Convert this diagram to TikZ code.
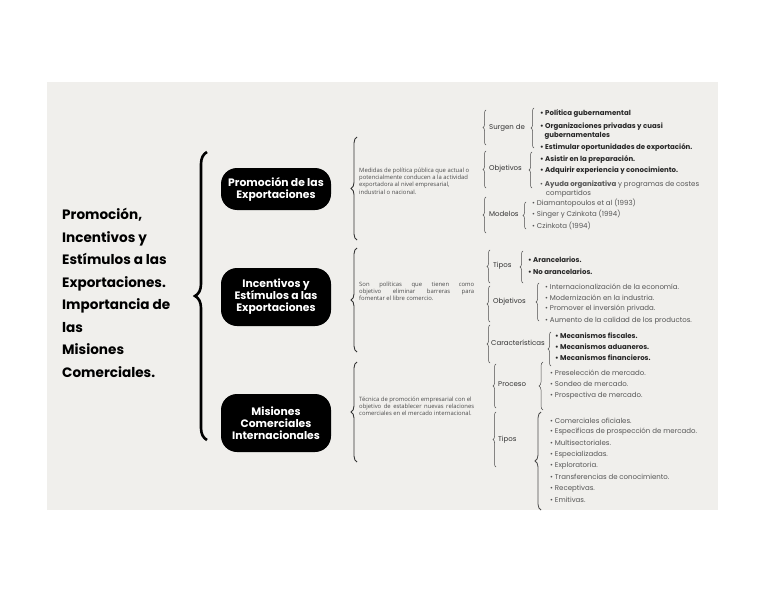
\documentclass[tikz,border=0pt]{standalone}
\usepackage{fontspec}
\setmainfont{Poppins}
\newfontfamily\descfont{Open Sans}
\usetikzlibrary{decorations.pathreplacing}
\definecolor{panel}{HTML}{F0EFEC}
\definecolor{itemc}{HTML}{555555}
\newcommand{\jline}[1]{\makebox[115pt][s]{#1}}
\begin{document}
\begin{tikzpicture}[x=1pt,y=-1pt,
  bigbr/.style={decorate,decoration={brace,amplitude=#1},line width=2.6pt},
  br/.style={decorate,decoration={brace,amplitude=#1},line width=0.5pt,draw=black!70},
  pill/.style={fill=black,rounded corners=16pt,text=white,font=\bfseries\fontsize{10.8}{12}\selectfont,align=center,minimum width=110pt,inner sep=2pt},
  desc/.style={anchor=west,font=\descfont\fontsize{5.9}{7.2}\selectfont,text=black!70,align=left,inner sep=0pt},
  lab/.style={anchor=west,font=\fontsize{7}{8}\selectfont,text=black!80,inner sep=0pt},
  it/.style={anchor=west,font=\fontsize{7}{8.5}\selectfont,text=itemc,inner sep=0pt},
  itb/.style={it,text=black!85,font=\fontsize{7}{8.5}\selectfont\bfseries},
]
\useasboundingbox (0,0) rectangle (768,594);
\fill[white] (0,0) rectangle (768,594);
\fill[panel] (47,82) rectangle (718,510);
\node[anchor=north west,align=left,font=\bfseries\fontsize{13.6}{22.5}\selectfont,inner sep=0pt] (title) at (62,208)
 {Promoción,\\Incentivos y\\Estímulos a las\\Exportaciones.\\Importancia de\\las\\Misiones\\Comerciales.};
\coordinate (bb1) at (207,440); \coordinate (bt1) at (207,152);
\draw[bigbr=12pt] (bb1) -- (bt1);
\node[pill,minimum height=42pt] (p1) at (276,189) {Promoción de las\\Exportaciones};
\node[pill,minimum height=58pt] (p2) at (276,297) {Incentivos y\\Estímulos a las\\Exportaciones};
\node[pill,minimum height=58pt] (p3) at (276,423) {Misiones\\Comerciales\\Internacionales};
% level 2
\coordinate (a1) at (357,240); \coordinate (a2) at (357,137); \draw[br=6pt,line width=0.9pt,draw=black!80] (a1)--(a2);
\coordinate (b1) at (357,352); \coordinate (b2) at (357,248); \draw[br=6pt,line width=0.9pt,draw=black!80] (b1)--(b2);
\coordinate (c1) at (357,462); \coordinate (c2) at (357,362); \draw[br=6pt,line width=0.9pt,draw=black!80] (c1)--(c2);
\node[desc] (d1) at (359,181) {Medidas de política pública que actual o\\potencialmente conducen a la actividad\\exportadora al nivel empresarial,\\industrial o nacional.};
\node[desc] (d2) at (359,291) {\jline{Son políticas que tienen como}\\\jline{objetivo eliminar barreras para}\\fomentar el libre comercio.};
\node[desc] (d3) at (359,406) {Técnica de promoción empresarial con el\\\jline{objetivo de establecer nuevas relaciones}\\comerciales en el mercado internacional.};
% section 1
\draw[br=3pt] (486,145)--(486,110); \node[lab] (s1) at (489,128) {Surgen de};
\draw[br=3pt] (534,148)--(534,108);
\node[itb] (s1a) at (540,114) {• Política gubernamental};
\node[itb,align=left] (s1b) at (540,131) {• Organizaciones privadas y cuasi\\\ \ \ gubernamentales};
\draw[br=3pt] (486,188)--(486,151); \node[lab] (o1) at (489,169) {Objetivos};
\draw[br=3pt] (532,188)--(532,152);
\node[itb] (o1a) at (540,148) {• Estimular oportunidades de exportación.};
\node[itb] (o1b) at (540,160) {• Asistir en la preparación.};
\node[itb] (o1c) at (540,171) {• Adquirir experiencia y conocimiento.};
\node[it,align=left] (o1d) at (540,189) {• \textbf{Ayuda organizativa} y programas de costes\\\ \ \ compartidos};
\draw[br=3pt] (486,233)--(486,197); \node[lab] (m1) at (489,214) {Modelos};
\draw[br=3pt] (526,229)--(526,202);
\node[it] (m1a) at (532,203) {• Diamantopoulos et al (1993)};
\node[it] (m1b) at (532,214) {• Singer y Czinkota (1994)};
\node[it] (m1c) at (532,226) {• Czinkota (1994)};
% section 2
\draw[br=3pt] (490,283)--(490,250); \node[lab] (t2) at (493,266) {Tipos};
\draw[br=3pt] (523,283)--(523,251);
\node[itb] (t2a) at (528,260) {• Arancelarios.};
\node[itb] (t2b) at (528,272) {• No arancelarios.};
\draw[br=3pt] (490,322)--(490,286); \node[lab] (o2) at (493,302) {Objetivos};
\draw[br=3pt] (539,321)--(539,283);
\node[it] (o2a) at (545,287) {• Internacionalización de la economía.};
\node[it] (o2b) at (545,298) {• Modernización en la industria.};
\node[it] (o2c) at (545,309) {• Promover el inversión privada.};
\node[it] (o2d) at (545,321) {• Aumento de la calidad de los productos.};
\draw[br=3pt] (490,363)--(490,325); \node[lab] (c2l) at (491,343) {Características};
\draw[br=3pt] (551,366)--(551,332);
\node[itb] (c2a) at (555,336) {• Mecanismos fiscales.};
\node[itb] (c2b) at (555,347) {• Mecanismos aduaneros.};
\node[itb] (c2c) at (555,358) {• Mecanismos financieros.};
% section 3
\draw[br=3pt] (496,408)--(496,364); \node[lab] (p3l) at (498,384) {Proceso};
\draw[br=4pt] (543,410)--(543,362);
\node[it] (p3a) at (550,373) {• Preselección de mercado.};
\node[it] (p3b) at (550,384) {• Sondeo de mercado.};
\node[it] (p3c) at (550,396) {• Prospectiva de mercado.};
\draw[br=3pt] (496,467)--(496,412); \node[lab] (t3) at (498,440) {Tipos};
\draw[br=6pt,line width=0.8pt] (541,510)--(541,412);
\node[it] (t3a) at (550,421) {• Comerciales oficiales.};
\node[it] (t3b) at (550,432) {• Específicas de prospección de mercado.};
\node[it] (t3c) at (550,443) {• Multisectoriales.};
\node[it] (t3d) at (550,455) {• Especializadas.};
\node[it] (t3e) at (550,466) {• Exploratoria.};
\node[it] (t3f) at (550,477) {• Transferencias de conocimiento.};
\node[it] (t3g) at (550,489) {• Receptivas.};
\node[it] (t3h) at (550,500) {• Emitivas.};
\end{tikzpicture}
\end{document}
